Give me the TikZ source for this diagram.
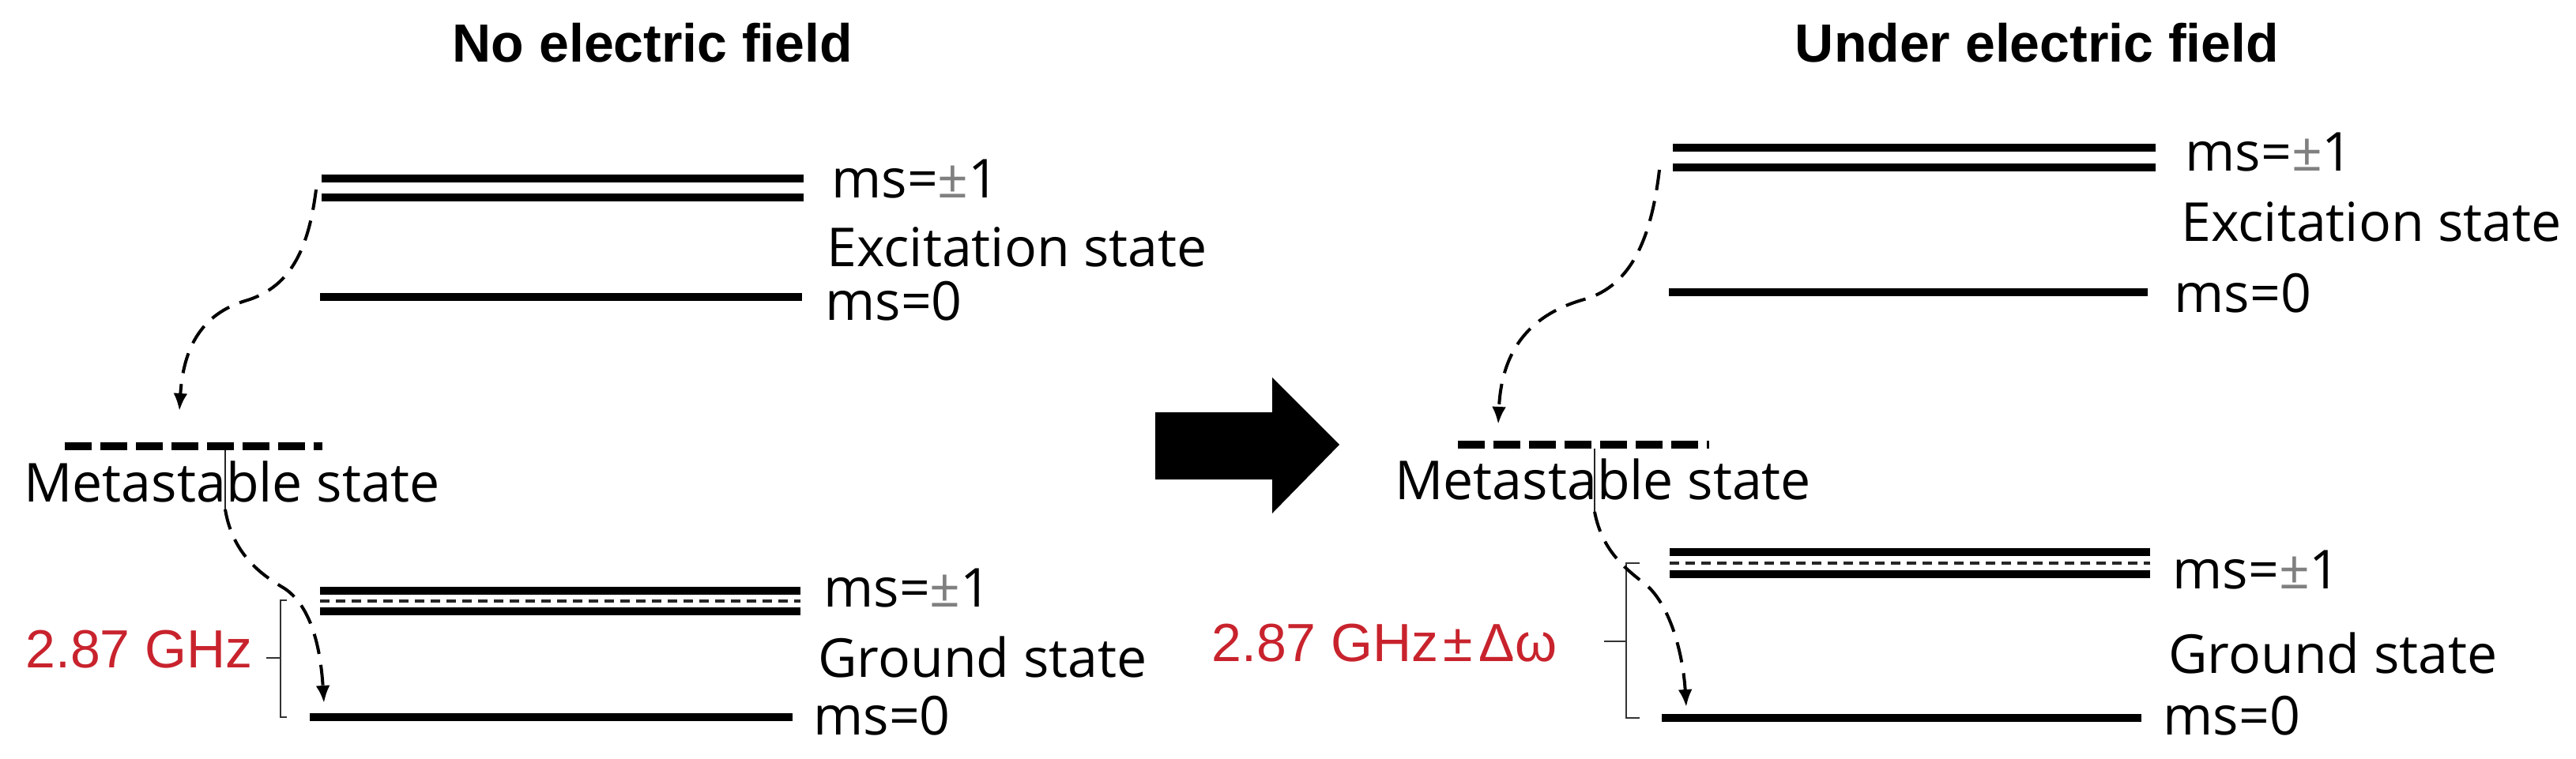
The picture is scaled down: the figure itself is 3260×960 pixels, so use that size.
\documentclass[tikz,border=0pt]{standalone}
\usepackage{fontspec}
\newfontfamily\labfont{Open Sans}
\newfontfamily\arialfont{Liberation Sans}
\usetikzlibrary{arrows.meta}
\definecolor{redtxt}{RGB}{200,35,45}
\newcommand\pmgray{{\color{black!50}±}}
\begin{document}
\begin{tikzpicture}[x=0.5pt,y=-0.5pt,
  enline/.style={line width=5pt},
  metaline/.style={line width=5pt,dash pattern=on 17pt off 5.5pt},
  midline/.style={line width=1.8pt,black!85,dash pattern=on 6pt off 4pt},
  trans/.style={line width=2pt,dash pattern=on 13pt off 7pt,-{Latex[length=11pt,width=9pt]}},
  thinline/.style={line width=1.4pt,black!85},
  brack/.style={line width=1.4pt,black!80},
  lbl/.style={anchor=base west,inner sep=0pt,font=\labfont\fontsize{34pt}{40pt}\selectfont},
  redlbl/.style={anchor=base west,inner sep=0pt,text=redtxt,font=\arialfont\fontsize{34pt}{40pt}\selectfont},
  ttl/.style={anchor=base,inner sep=0pt,font=\arialfont\bfseries\fontsize{34pt}{40pt}\selectfont}]
\useasboundingbox (0,0) rectangle (3260,960);

% titles
\node[ttl] (t1) at (826,78) {No electric field};
\node[ttl] (t2) at (2578,78) {Under electric field};

% ===== left panel =====
\coordinate (LEa1) at (407,226); \coordinate (LEa2) at (1017,226);
\coordinate (LEb1) at (407,250); \coordinate (LEb2) at (1017,250);
\coordinate (LE01) at (405,376); \coordinate (LE02) at (1015,376);
\coordinate (LM1) at (82,565);  \coordinate (LM2) at (408,565);
\coordinate (LGa1) at (405,748); \coordinate (LGa2) at (1013,748);
\coordinate (LGm1) at (405,761); \coordinate (LGm2) at (1013,761);
\coordinate (LGb1) at (405,774); \coordinate (LGb2) at (1013,774);
\coordinate (LG01) at (392,908); \coordinate (LG02) at (1003,908);
\draw[enline] (LEa1) -- (LEa2);
\draw[enline] (LEb1) -- (LEb2);
\draw[enline] (LE01) -- (LE02);
\draw[metaline] (LM1) -- (LM2);
\draw[enline] (LGa1) -- (LGa2);
\draw[midline] (LGm1) -- (LGm2);
\draw[enline] (LGb1) -- (LGb2);
\draw[enline] (LG01) -- (LG02);

\node[lbl] (lexpm) at (1052,250) {ms=\pmgray1};
\node[lbl] (lexst) at (1046,337) {Excitation state};
\node[lbl] (lex0) at (1044,405) {ms=0};
\node[lbl] (lmeta) at (30,635) {Metastable state};
\node[lbl] (lgpm) at (1042,768) {ms=\pmgray1};
\node[lbl] (lgst) at (1035,857) {Ground state};
\node[lbl] (lg0) at (1029,930) {ms=0};
\node[redlbl] (lfreq) at (32,845) {2.87 GHz};

% bracket
\coordinate (LBt) at (355,760); \coordinate (LBb) at (355,908);
\coordinate (LBm) at (355,833); \coordinate (LBk) at (337,833);
\draw[brack] (363,760) -- (LBt) -- (LBb) -- (363,908);
\draw[brack] (LBm) -- (LBk);

% transitions
\coordinate (LA1s) at (400,240); \coordinate (LA1e) at (227,520);
\draw[trans] (LA1s) .. controls (390,320) and (365,365) .. (310,381)
  .. controls (255,398) and (232,440) .. (LA1e);
\coordinate (LA2a) at (285,570); \coordinate (LA2s) at (285,645); \coordinate (LA2e) at (410,890);
\draw[thinline] (LA2a) -- (LA2s);
\draw[trans] (LA2s) .. controls (295,705) and (335,730) .. (360,745)
  .. controls (390,765) and (405,810) .. (LA2e);

% ===== big arrow =====
\fill[black] (1462,522) -- (1610,522) -- (1610,478) -- (1695,563) -- (1610,650) -- (1610,607) -- (1462,607) -- cycle;

% ===== right panel =====
\coordinate (REa1) at (2117,187); \coordinate (REa2) at (2728,187);
\coordinate (REb1) at (2117,212); \coordinate (REb2) at (2728,212);
\coordinate (RE01) at (2112,370); \coordinate (RE02) at (2718,370);
\coordinate (RM1) at (1845,563);  \coordinate (RM2) at (2163,563);
\coordinate (RGa1) at (2113,699); \coordinate (RGa2) at (2721,699);
\coordinate (RGm1) at (2113,713); \coordinate (RGm2) at (2721,713);
\coordinate (RGb1) at (2113,727); \coordinate (RGb2) at (2721,727);
\coordinate (RG01) at (2103,909); \coordinate (RG02) at (2710,909);
\draw[enline] (REa1) -- (REa2);
\draw[enline] (REb1) -- (REb2);
\draw[enline] (RE01) -- (RE02);
\draw[metaline] (RM1) -- (RM2);
\draw[enline] (RGa1) -- (RGa2);
\draw[midline] (RGm1) -- (RGm2);
\draw[enline] (RGb1) -- (RGb2);
\draw[enline] (RG01) -- (RG02);

\node[lbl] (rexpm) at (2765,216) {ms=\pmgray1};
\node[lbl] (rexst) at (2760,305) {Excitation state};
\node[lbl] (rex0) at (2751,395) {ms=0};
\node[lbl] (rmeta) at (1765,632) {Metastable state};
\node[lbl] (rgpm) at (2749,745) {ms=\pmgray1};
\node[lbl] (rgst) at (2744,852) {Ground state};
\node[lbl] (rg0) at (2737,930) {ms=0};
\node[redlbl] (rfreq) at (1533,837) {2.87 GHz\hspace{3pt}±\hspace{4pt}Δω};

% bracket
\coordinate (RBt) at (2058,713); \coordinate (RBb) at (2058,909);
\coordinate (RBm) at (2058,812); \coordinate (RBk) at (2030,812);
\draw[brack] (2075,713) -- (RBt) -- (RBb) -- (2075,909);
\draw[brack] (RBm) -- (RBk);

% transitions
\coordinate (RA1s) at (2100,215); \coordinate (RA1e) at (1896,537);
\draw[trans] (RA1s) .. controls (2090,300) and (2065,362) .. (2005,379)
  .. controls (1930,400) and (1900,450) .. (RA1e);
\coordinate (RA2a) at (2018,568); \coordinate (RA2s) at (2018,648); \coordinate (RA2e) at (2134,895);
\draw[thinline] (RA2a) -- (RA2s);
\draw[trans] (RA2s) .. controls (2028,700) and (2060,722) .. (2085,742)
  .. controls (2115,770) and (2130,830) .. (RA2e);
\end{tikzpicture}
\end{document}
